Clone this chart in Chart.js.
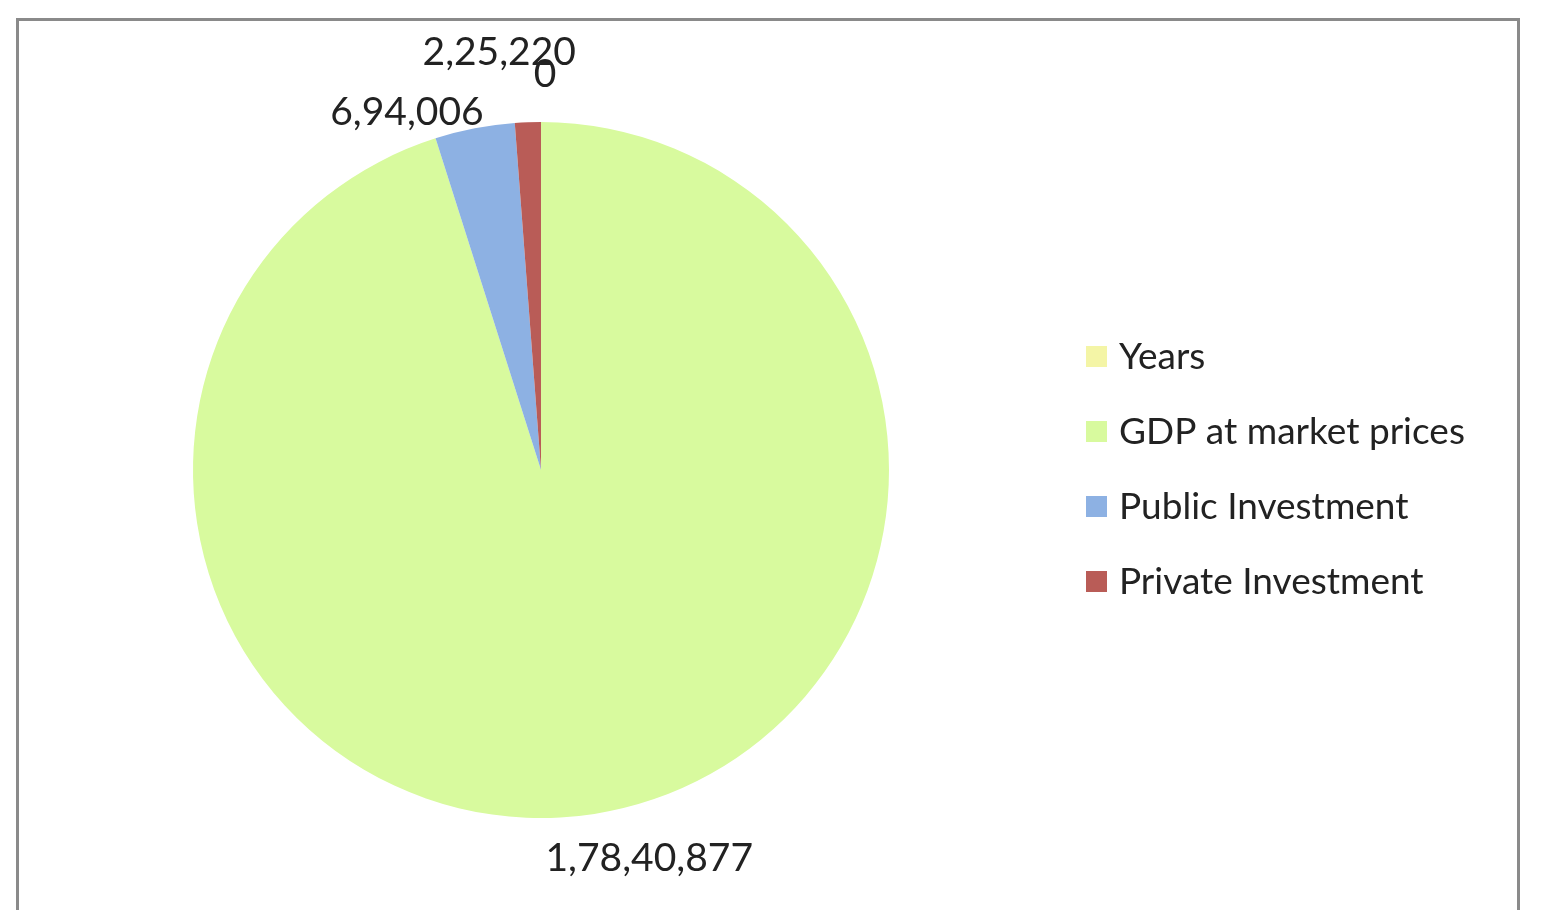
<!DOCTYPE html>
<html>
<head>
<meta charset="utf-8">
<script src="https://cdn.jsdelivr.net/npm/chart.js@4"></script>
<style>
  html, body { margin: 0; padding: 0; background: #fff; }
  #wrap { width: 1545px; height: 910px; }
</style>
</head>
<body>
<div id="wrap"><canvas id="pie"></canvas></div>
<script>
// data
const labels = ['Years', 'GDP at market prices', 'Public Investment', 'Private Investment'];
const values = [0, 17840877, 694006, 225220];
const valueText = ['0', '1,78,40,877', '6,94,006', '2,25,220'];
const colors = ['#f4f5a6', '#d8fa9e', '#8db1e3', '#b95c57'];

const FONT = 'Lato, "Open Sans", sans-serif';

// frame around the chart (Excel style)
const framePlugin = {
    id: 'frame',
    beforeDraw(chart) {
        const ctx = chart.ctx;
        ctx.save();
        ctx.strokeStyle = '#8a8a8a';
        ctx.lineWidth = 3;
        ctx.beginPath();
        ctx.moveTo(17.5, 915);
        ctx.lineTo(17.5, 19.5);
        ctx.lineTo(1518.5, 19.5);
        ctx.lineTo(1518.5, 915);
        ctx.stroke();
        ctx.restore();
    }
};

// outside-end value labels, anchored on each arc's mid angle
const nudge = [
    {d: 48, dx: 4},     // Years
    {d: 45, dx: 48},    // GDP
    {d: 16, dx: 12},    // Public
    {d: 70, dx: -26}    // Private
];
const labelPlugin = {
    id: 'valueLabels',
    afterDatasetsDraw(chart) {
        const ctx = chart.ctx;
        const meta = chart.getDatasetMeta(0);
        ctx.save();
        ctx.font = '39px ' + FONT;
        ctx.fillStyle = '#222';
        ctx.textBaseline = 'middle';
        meta.data.forEach((arc, i) => {
            const p = arc.getProps(['x', 'y', 'startAngle', 'endAngle', 'outerRadius'], true);
            const mid = (p.startAngle + p.endAngle) / 2;
            const r = p.outerRadius + nudge[i].d;
            const x = p.x + Math.cos(mid) * r + nudge[i].dx;
            const y = p.y + Math.sin(mid) * r;
            ctx.textAlign = i === 2 ? 'right' : 'center';
            ctx.fillText(valueText[i], x, y);
        });
        ctx.restore();
    }
};

// legend on the right
const legendPlugin = {
    id: 'sideLegend',
    afterDraw(chart) {
        const ctx = chart.ctx;
        ctx.save();
        ctx.font = '37px ' + FONT;
        ctx.textBaseline = 'middle';
        ctx.textAlign = 'left';
        labels.forEach((lab, i) => {
            const cy = 357 + i * 75;
            ctx.fillStyle = colors[i];
            ctx.fillRect(1086, cy - 11, 21, 21);
            ctx.fillStyle = '#222';
            ctx.fillText(lab, 1119, cy);
        });
        ctx.restore();
    }
};

const config = {
    type: 'pie',
    data: {
        labels: labels,
        datasets: [{
            data: values,
            backgroundColor: colors,
            borderWidth: 0
        }]
    },
    options: {
        responsive: true,
        maintainAspectRatio: false,
        animation: false,
        layout: {
            padding: {left: 193, top: 122, right: 656, bottom: 92}
        },
        plugins: {
            legend: {display: false},
            tooltip: {enabled: false}
        }
    },
    plugins: [framePlugin, labelPlugin, legendPlugin]
};

const myChart = new Chart(document.getElementById('pie'), config);
</script>
</body>
</html>
